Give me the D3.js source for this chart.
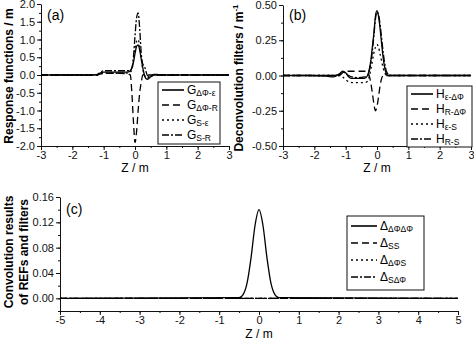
<!DOCTYPE html>
<html>
<head>
<meta charset="utf-8">
<script src="https://cdn.jsdelivr.net/npm/d3@7"></script>
<style>
  html, body { margin: 0; padding: 0; background: #fff; }
  svg { display: block; font-family: "Liberation Sans", Arial, sans-serif; }
  .tick text { font-size: 11px; fill: #111; }
  .domain, .tick line { stroke: #111; }
</style>
</head>
<body>
<svg id="chart" width="474" height="342"></svg>
<script>
// ---- (a) response functions ----
const zA = [-3, -1.4, -1.2, -1.1, -1.0, -0.8, -0.5, -0.3, -0.2, -0.15, -0.1, -0.05, 0, 0.05, 0.1, 0.15, 0.2, 0.25, 0.3, 0.35, 0.4, 0.5, 0.6, 0.7, 0.8, 1.0, 3];
const gDphiEps = [0, 0, 0.01, 0.06, 0.08, 0.08, 0.08, 0.08, 0.09, 0.12, 0.2, 0.35, 0.6, 0.8, 0.85, 0.7, 0.45, 0.2, 0.0, -0.1, -0.12, -0.05, 0.02, 0.02, 0, 0, 0];
const gDphiR   = [0, 0, 0.0, 0.03, 0.05, 0.05, 0.05, 0.04, 0.02, 0.0, -0.5, -1.3, -1.9, -1.6, -1.0, -0.5, -0.2, 0.0, 0.02, 0.0, 0.0, 0, 0, 0, 0, 0, 0];
const gSEps    = [0, 0, 0.0, 0.03, 0.05, 0.05, 0.05, 0.05, 0.06, 0.08, 0.15, 0.4, 0.75, 0.95, 1.0, 0.8, 0.45, 0.15, 0.0, -0.08, -0.08, -0.02, 0, 0, 0, 0, 0];
const gSR      = [0, 0, 0.02, 0.08, 0.12, 0.12, 0.12, 0.12, 0.12, 0.14, 0.2, 0.5, 1.1, 1.6, 1.75, 1.3, 0.6, 0.3, 0.25, 0.1, -0.02, -0.05, 0, 0, 0, 0, 0];

// ---- (b) deconvolution filters ----
const zB = [-3, -2.2, -1.6, -1.4, -1.2, -1.1, -1.0, -0.9, -0.8, -0.6, -0.4, -0.3, -0.25, -0.2, -0.15, -0.1, -0.05, 0, 0.05, 0.1, 0.15, 0.2, 0.25, 0.3, 0.35, 0.4, 0.5, 3];
const hEpsDphi = [0, 0, -0.005, -0.01, 0.01, 0.03, 0.02, -0.01, -0.02, -0.02, -0.02, 0, 0.04, 0.1, 0.2, 0.3, 0.42, 0.46, 0.42, 0.33, 0.22, 0.12, 0.05, 0.01, 0, 0, 0, 0];
const hRDphi   = [0, 0, 0, 0, 0.0, 0.02, 0.03, 0.03, 0.03, 0.03, 0.03, 0.02, 0, -0.05, -0.12, -0.2, -0.25, -0.22, -0.15, -0.07, -0.02, 0, 0, 0, 0, 0, 0, 0];
const hEpsS    = [0, 0, 0, 0, 0, -0.01, -0.03, -0.045, -0.05, -0.05, -0.05, -0.04, -0.01, 0.04, 0.1, 0.16, 0.2, 0.22, 0.2, 0.15, 0.1, 0.05, 0.02, 0, 0, 0, 0, 0];
const hRS      = [0, 0, 0, 0, 0.01, 0.025, 0.015, 0, -0.01, -0.015, -0.01, 0, 0.03, 0.08, 0.17, 0.28, 0.4, 0.45, 0.43, 0.36, 0.26, 0.16, 0.08, 0.03, 0.01, 0, 0, 0];

// ---- (c) convolution of REFs and filters ----
const zC = [-5, -0.5, -0.4, -0.3, -0.2, -0.1, 0, 0.1, 0.2, 0.3, 0.4, 0.5, 5];
const dDphiDphi = [0, 0.001, 0.006, 0.024, 0.064, 0.115, 0.14, 0.115, 0.064, 0.024, 0.006, 0.001, 0];
const dSS       = [0, 0, 0, 0, 0, 0, 0, 0, 0, 0, 0, 0, 0];
const dDphiS    = [0, 0, 0, 0, 0, 0, 0, 0, 0, 0, 0, 0, 0];
const dSDphi    = [0, 0, 0, 0, 0, 0, 0, 0, 0, 0, 0, 0, 0];

// line styles shared by the four series in every panel
const dashes = [null, "7,4", "2,3", "7,2,2,2"];

const svg = d3.select("#chart");

function panel(opt) {
  const x = d3.scaleLinear().domain(opt.xDomain).range(opt.xRange);
  const y = d3.scaleLinear().domain(opt.yDomain).range(opt.yRange);
  const g = svg.append("g");

  // minor ticks
  g.append("g").attr("transform", `translate(0,${opt.yRange[0]})`)
    .call(d3.axisBottom(x).tickValues(d3.range(opt.xDomain[0], opt.xDomain[1] + 1e-9, opt.xMinor)).tickSize(2).tickFormat(""))
    .call(a => a.select(".domain").remove());
  g.append("g").attr("transform", `translate(${opt.xRange[0]},0)`)
    .call(d3.axisLeft(y).tickValues(d3.range(opt.yDomain[0], opt.yDomain[1] + 1e-9, opt.yMinor)).tickSize(2).tickFormat(""))
    .call(a => a.select(".domain").remove());

  // major axes
  g.append("g").attr("transform", `translate(0,${opt.yRange[0]})`)
    .call(d3.axisBottom(x).tickValues(opt.xTicks).tickSize(4).tickSizeOuter(0).tickPadding(1).tickFormat(d => String(d)));
  g.append("g").attr("transform", `translate(${opt.xRange[0]},0)`)
    .call(d3.axisLeft(y).tickValues(opt.yTicks).tickSize(4).tickSizeOuter(0).tickPadding(2).tickFormat(opt.yFormat));

  g.selectAll(".domain").attr("stroke-width", 1);

  // series
  const line = d3.line().x(d => x(d[0])).y(d => y(d[1])).curve(d3.curveMonotoneX);
  opt.series.forEach((s, i) => {
    g.append("path")
      .datum(opt.z.map((z, k) => [z, s.values[k]]))
      .attr("fill", "none")
      .attr("stroke", "#000")
      .attr("stroke-width", 1.3)
      .attr("stroke-dasharray", dashes[i])
      .attr("d", line);
  });

  // panel tag
  g.append("text").attr("x", opt.tag[0]).attr("y", opt.tag[1])
    .attr("font-size", 14).text(opt.tag[2]);

  // x title
  g.append("text").attr("x", (opt.xRange[0] + opt.xRange[1]) / 2).attr("y", opt.xTitleY)
    .attr("text-anchor", "middle").attr("font-size", 12).text("Z / m");

  // legend
  const L = opt.legend;
  g.append("rect").attr("x", L.x).attr("y", L.y).attr("width", L.w).attr("height", L.h)
    .attr("fill", "#fff").attr("stroke", "#111").attr("stroke-width", 1);
  opt.series.forEach((s, i) => {
    const yy = L.y + L.top + i * L.step;
    g.append("line").attr("x1", L.x + 4).attr("x2", L.x + 4 + L.len).attr("y1", yy).attr("y2", yy)
      .attr("stroke", "#000").attr("stroke-width", 1.6).attr("stroke-dasharray", dashes[i]);
    const t = g.append("text").attr("x", L.x + 7 + L.len).attr("y", yy + 4).attr("font-size", 12);
    t.append("tspan").text(s.base);
    t.append("tspan").attr("font-size", 8.5).attr("dy", 2).text(s.sub);
  });
  return g;
}

panel({
  xDomain: [-3, 3], xRange: [41, 229], yDomain: [-2, 2], yRange: [146, 4],
  xTicks: d3.range(-3, 4, 1), yTicks: d3.range(-2, 2.01, 0.5), xMinor: 0.5, yMinor: 0.25,
  yFormat: d => d.toFixed(1), z: zA,
  series: [
    { base: "G", sub: "ΔΦ-ε", values: gDphiEps },
    { base: "G", sub: "ΔΦ-R", values: gDphiR },
    { base: "G", sub: "S-ε", values: gSEps },
    { base: "G", sub: "S-R", values: gSR }
  ],
  tag: [47, 20, "(a)"], xTitleY: 172,
  legend: { x: 158, y: 82, w: 62, h: 62, top: 8, step: 15, len: 22 }
});

panel({
  xDomain: [-3, 3], xRange: [283, 471], yDomain: [-0.5, 0.5], yRange: [146, 5],
  xTicks: d3.range(-3, 4, 1), yTicks: d3.range(-0.5, 0.51, 0.25), xMinor: 0.5, yMinor: 0.125,
  yFormat: d => d.toFixed(2), z: zB,
  series: [
    { base: "H", sub: "ε-ΔΦ", values: hEpsDphi },
    { base: "H", sub: "R-ΔΦ", values: hRDphi },
    { base: "H", sub: "ε-S", values: hEpsS },
    { base: "H", sub: "R-S", values: hRS }
  ],
  tag: [289, 20, "(b)"], xTitleY: 172,
  legend: { x: 407, y: 86, w: 65, h: 61, top: 8, step: 15, len: 22 }
});

panel({
  xDomain: [-5, 5], xRange: [60, 458], yDomain: [-0.02, 0.16], yRange: [311, 197],
  xTicks: d3.range(-5, 6, 1), yTicks: d3.range(0, 0.161, 0.04), xMinor: 0.5, yMinor: 0.02,
  yFormat: d => d.toFixed(2), z: zC,
  series: [
    { base: "Δ", sub: "ΔΦΔΦ", values: dDphiDphi },
    { base: "Δ", sub: "SS", values: dSS },
    { base: "Δ", sub: "ΔΦS", values: dDphiS },
    { base: "Δ", sub: "SΔΦ", values: dSDphi }
  ],
  tag: [66, 214, "(c)"], xTitleY: 338,
  legend: { x: 347, y: 216, w: 77, h: 74, top: 10, step: 17, len: 26 }
});

// y-axis titles
svg.append("text").attr("transform", "translate(13,76) rotate(-90)")
  .attr("text-anchor", "middle").attr("font-size", 12).attr("font-weight", "bold")
  .text("Response functions / m");
const tb = svg.append("text").attr("transform", "translate(243,78) rotate(-90)")
  .attr("text-anchor", "middle").attr("font-size", 12).attr("font-weight", "bold");
tb.append("tspan").text("Deconvolution filters / m");
tb.append("tspan").attr("font-size", 8).attr("dy", -5).text("-1");
svg.append("text").attr("transform", "translate(13,252) rotate(-90)")
  .attr("text-anchor", "middle").attr("font-size", 12).attr("font-weight", "bold")
  .text("Convolution results");
svg.append("text").attr("transform", "translate(28,252) rotate(-90)")
  .attr("text-anchor", "middle").attr("font-size", 12).attr("font-weight", "bold")
  .text("of REFs and filters");
</script>
</body>
</html>
